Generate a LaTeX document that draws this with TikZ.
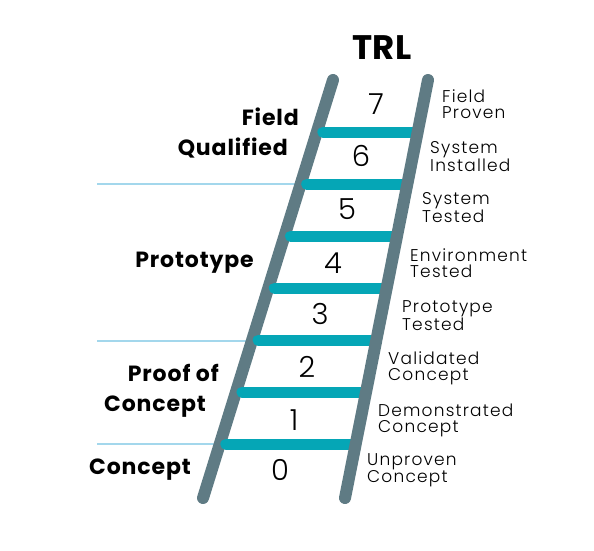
\documentclass[tikz,border=0pt]{standalone}
\usepackage{fontspec}
\setmainfont{Poppins}
\newfontfamily\thinfont{Poppins Light}
\usetikzlibrary{calc}
\definecolor{rail}{HTML}{5F7B84}
\definecolor{rung}{HTML}{05A6B6}
\definecolor{guide}{HTML}{72C3E3}
\begin{document}
\begin{tikzpicture}[x=1pt,y=-1pt,
  railline/.style={line width=12pt,draw=rail,line cap=round},
  rungline/.style={line width=11pt,draw=rung,line cap=round},
  guideline/.style={line width=1.2pt,draw=guide},
  stagetext/.style={font=\fontsize{22}{30}\selectfont\bfseries\addfontfeatures{LetterSpace=4},inner sep=0pt,anchor=east,align=right},
  desctext/.style={font=\fontsize{17}{16}\selectfont\thinfont\addfontfeatures{LetterSpace=7},inner sep=0pt,anchor=west,align=left},
  numtext/.style={font=\fontsize{29}{29}\selectfont\thinfont,inner sep=0pt},
  titletext/.style={font=\fontsize{34}{34}\selectfont\bfseries,inner sep=0pt}]
\useasboundingbox[fill=white] (0,0) rectangle (594,550);
% rails
\coordinate (LT) at (333,80);
\coordinate (LB) at (203,498);
\coordinate (RT) at (428,80);
\coordinate (RB) at (345,498);
% guide lines
\coordinate (G1) at (97,184);
\coordinate (G2) at (97,341);
\coordinate (G3) at (97,444);
\draw[guideline] (G1) -- ($(LT)!0.2488!(LB)$);
\draw[guideline] (G2) -- ($(LT)!0.6244!(LB)$);
\draw[guideline] (G3) -- ($(LT)!0.8708!(LB)$);
\draw[railline] (LT) -- (LB);
\foreach \k in {1,...,7}{
  \pgfmathsetmacro{\t}{0.1244*\k}
  \draw[rungline] ($(LT)!\t!(LB)+(6,0)$) -- ($(RT)!\t!(RB)$);
}
\draw[railline] (RT) -- (RB);
% title
\node[titletext] (trl) at (382,48) {TRL};
% numbers
\node[numtext] (n7) at (376,104) {7};
\node[numtext] (n6) at (361,156) {6};
\node[numtext] (n5) at (347,209) {5};
\node[numtext] (n4) at (333,263) {4};
\node[numtext] (n3) at (320,314) {3};
\node[numtext] (n2) at (307,367) {2};
\node[numtext] (n1) at (294,420) {1};
\node[numtext] (n0) at (280,470) {0};
% descriptions
\node[desctext] (d7) at (442,104) {Field\\Proven};
\node[desctext] (d6) at (430,157) {System\\Installed};
\node[desctext] (d5) at (422,208) {System\\Tested};
\node[desctext] (d4) at (410,263) {Environment\\Tested};
\node[desctext] (d3) at (402,316) {Prototype\\Tested};
\node[desctext] (d2) at (388,368) {Validated\\Concept};
\node[desctext] (d1) at (378,420) {Demonstrated\\Concept};
\node[desctext] (d0) at (367,470) {Unproven\\Concept};
% stages
\node[stagetext] (s3) at (299,133) {Field\\Qualified\kern11pt};
\node[stagetext] (s2) at (254,263) {Prototype};
\node[stagetext] (s1) at (219,391) {Proof of\\Concept\kern13pt};
\node[stagetext] (s0) at (191,470) {Concept};
\end{tikzpicture}
\end{document}
